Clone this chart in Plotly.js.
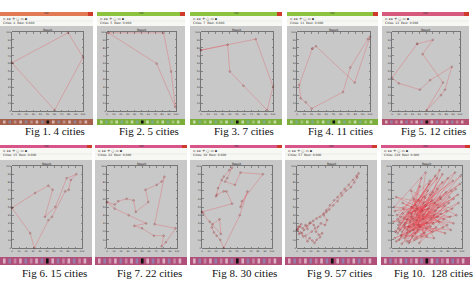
<!DOCTYPE html>
<html><head><meta charset="utf-8">
<script src="https://cdn.plot.ly/plotly-3.0.1.min.js"></script>
<style>html,body{margin:0;padding:0;background:#fff;overflow:hidden}#chart{width:474px;height:289px}</style>
</head><body><div id="chart"></div>
<script>
// ---------- DATA (tour order, city coordinates, axis units 0-100) ----------
const captions = ["Fig 1. 4 cities","Fig 2. 5 cities","Fig 3. 7 cities","Fig 4. 11 cities","Fig 5. 12 cities",
                  "Fig 6. 15 cities","Fig 7. 22 cities","Fig 8. 30 cities","Fig 9. 57 cities","Fig 10.  128 cities"];
const plotTitle = "Result";
const tickVals = [0,10,20,30,40,50,60,70,80,90,100];

const x1 = [0,79,100,60];
const y1 = [61,99,68,1];

const x2 = [2,82,93,99,72];
const y2 = [99,99,50,5,60];

const x3 = [0,76,100,92,59,40,37];
const y3 = [77,91,31,1,32,50,84];

const x4 = [21,26,79,100,97,73,63,20,12,5,3];
const y4 = [79,82,36,94,91,55,24,3,11,16,33];

const x5 = [37,60,45,75,51,72,78,88,56,41,10,0];
const y5 = [85,90,72,36,1,20,27,56,39,27,35,42];

const x6 = [0,33,52,58,47,62,78,92,84,81,76,57,52,32,26];
const y6 = [49,67,76,71,38,50,85,90,83,71,69,38,34,0,18];

const x7 = [0,11,16,28,38,41,59,55,71,78,82,68,98,84,78,81,67,50,39,56,31,11];
const y7 = [56,53,57,60,58,44,56,71,77,81,87,29,24,7,2,15,15,24,27,30,40,48];

const x8 = [0,43,35,31,21,20,23,28,31,39,43,36,33,47,55,87,57,55,65,54,31,26,21,17,14,15,25,27,11,2];
const y8 = [44,54,69,69,65,63,73,83,87,95,98,85,81,77,92,90,57,50,69,40,0,10,15,19,25,29,35,17,32,42];

const x9 = [0,4,8,12,15,18,23,28,33,38,42,47,53,58,63,68,74,80,85,88,86,82,77,70,64,58,52,46,42,38,
            43,40,34,30,27,31,36,33,28,25,22,18,15,12,21,26,24,19,14,10,7,9,5,3,1,6,2];
const y9 = [22,26,24,28,23,30,33,36,38,42,46,52,58,62,67,72,77,83,88,91,86,80,74,70,64,57,52,47,44,40,
            34,28,30,26,20,16,18,13,10,6,9,12,8,15,20,24,28,31,27,22,18,14,19,17,23,29,26];

const x10 = [5,62,12,85,20,40,8,70,25,90,15,55,30,78,3,48,35,95,18,60,10,72,28,88,6,45,22,65,38,82,
             14,52,33,97,26,58,9,75,42,68,17,50,4,86,31,63,21,80,36,57,11,92,27,46,16,74,39,66,7,54,
             24,84,34,60,13,77,44,98,19,51,29,70,2,88,37,56,23,64,8,47,32,79,15,43,26,91,6,59,35,72,
             18,49,28,83,12,61,40,76,21,53,9,67,31,94,14,45,38,73,24,58,4,81,33,62,17,50,27,87,10,55,
             36,69,22,42,13,65,30,48];
const y10 = [20,88,30,70,15,75,35,60,8,92,42,65,22,45,50,92,12,55,25,40,10,80,38,30,62,55,18,72,28,62,
             5,48,45,78,32,20,28,52,15,95,36,30,12,48,60,25,8,85,40,58,22,40,70,18,48,35,6,50,40,82,
             26,22,52,12,16,68,35,88,30,70,14,42,32,60,22,36,44,85,18,62,10,28,55,45,20,72,8,30,34,90,
             12,24,50,38,38,55,26,18,35,78,24,32,28,65,20,40,58,25,6,68,45,55,18,45,28,14,42,82,32,26,
             48,62,22,85,14,38,35,52];

const tours = [[x1,y1],[x2,y2],[x3,y3],[x4,y4],[x5,y5],[x6,y6],[x7,y7],[x8,y8],[x9,y9],[x10,y10]];

// ---------- LAYOUT GEOMETRY (pixels) ----------
const W = 474, H = 289;
const px = v => v / W, py = v => 1 - v / H;
const rows = [
  {top:12, bar:16, tool:26, gray:119, task:125, cap:131,
   win:[[0,93],[97,185],[190,282],[287,378],[382,469]],
   plot:[[12,83],[107,176],[201,273],[297,370],[392,460]], py:[32,111],
   barCol:['#e27a55','#8cc43f','#8cc43f','#8cc43f','#d65a7c'],
   taskCol:['#a5604c','#7cae3c','#7cae3c','#7cae3c','#b25270']},
  {top:145, bar:148, tool:160, gray:257, task:265, cap:273,
   win:[[0,92],[95,187],[190,282],[285,377],[381,470]],
   plot:[[12,82],[107,177],[202,272],[297,367],[392,462]], py:[166,248],
   barCol:['#d8558a','#d8558a','#d8558a','#d8558a','#d8558a'],
   taskCol:['#b0507a','#b0507a','#b0507a','#b0507a','#b0507a']}
];

const traces = [], shapes = [], annotations = [];
const layout = {width:W, height:H, margin:{l:0,r:0,t:0,b:0}, paper_bgcolor:'#fff', plot_bgcolor:'#fff',
                showlegend:false, shapes:shapes, annotations:annotations};

function rect(x0,x1,y0,y1,color,extra){
  shapes.push(Object.assign({type:'rect',xref:'paper',yref:'paper',x0:px(x0),x1:px(x1),y0:py(y1),y1:py(y0),
    fillcolor:color,line:{width:0},layer:'below'},extra||{}));
}

let k = 0;
rows.forEach((r,ri)=>{
  for(let c=0;c<5;c++){
    const [wx0,wx1] = r.win[c];
    rect(wx0,wx1,r.top,r.task,'#c8c8c8');
    rect(wx0,wx1,r.top,r.bar,r.barCol[c]);
    rect(wx1-5,wx1,r.top,r.bar,'#d03a2a');
    rect(wx0,wx1,r.bar,r.tool,'#f7f7f4');
    shapes.push({type:'line',xref:'paper',yref:'paper',x0:px(wx0),x1:px(wx1),y0:py((r.bar+r.tool)/2),y1:py((r.bar+r.tool)/2),
      line:{color:'#dcdcd8',width:0.5},layer:'below'});
    rect(wx0,wx1,r.gray,r.task,r.taskCol[c]);
    const iw = (wx1-wx0);
    for(let j=0;j<16;j++){
      const ix = wx0 + 3 + j*(iw-6)/16;
      const col = (j===8)?'#111':(j%3===0?'rgba(255,255,255,0.55)':(j%3===1?'rgba(120,170,220,0.5)':'rgba(255,255,255,0.3)'));
      rect(ix, ix+2.6, r.gray+1.5, r.task-1.5, col);
    }
    annotations.push({xref:'paper',yref:'paper',x:px(wx0+1),y:py(r.bar+2.6),xanchor:'left',yanchor:'middle',
      text:'▫ ◂ ▸ ✛ ○ ▭ ▪',showarrow:false,font:{size:3.5,color:'#333',family:'DejaVu Sans'}});
    annotations.push({xref:'paper',yref:'paper',x:px(wx0+1),y:py(r.bar+7),xanchor:'left',yanchor:'middle',
      text:'Cities: '+tours[k][0].length+'  Best: 0.000',showarrow:false,font:{size:3,color:'#333',family:'DejaVu Sans'}});
    annotations.push({xref:'paper',yref:'paper',x:px((wx0+wx1)/2),y:py((r.top+r.bar)/2),xanchor:'center',yanchor:'middle',
      text:'TSP',showarrow:false,font:{size:2.5,color:'#333',family:'DejaVu Sans'}});

    const ax = k===0?'':String(k+1);
    const [x0,x1] = r.plot[c];
    const axisBase = {range:[0,100],tickvals:tickVals,ticks:'inside',ticklen:1.5,tickwidth:0.4,tickcolor:'#222',
      showline:true,linecolor:'#222',linewidth:0.5,mirror:'ticks',showgrid:false,zeroline:false,
      tickfont:{size:2.5,color:'#333',family:'DejaVu Sans'},fixedrange:true};
    layout['xaxis'+ax] = Object.assign({},axisBase,{domain:[px(x0),px(x1)],anchor:'y'+ax});
    layout['yaxis'+ax] = Object.assign({},axisBase,{domain:[py(r.py[1]),py(r.py[0])],anchor:'x'+ax});

    const xs = tours[k][0].concat([tours[k][0][0]]);
    const ys = tours[k][1].concat([tours[k][1][0]]);
    traces.push({type:'scatter',mode:'lines+markers',x:xs,y:ys,xaxis:'x'+ax,yaxis:'y'+ax,cliponaxis:false,
      line:{color:'rgba(230,70,80,0.6)',width:0.5},
      marker:{size:1.8,color:'rgba(120,40,40,0.75)',symbol:'circle-open',line:{width:0.4}},hoverinfo:'skip'});

    annotations.push({xref:'paper',yref:'paper',x:px((x0+x1)/2),y:py(r.py[0]-2.5),xanchor:'center',yanchor:'middle',
      text:plotTitle,showarrow:false,font:{size:3,color:'#222',family:'DejaVu Sans'}});
    const cx = (wx0+wx1)/2 + 8;
    annotations.push({xref:'paper',yref:'paper',x:px(cx),y:py(r.cap),xanchor:'center',yanchor:'middle',
      text:captions[k],showarrow:false,font:{size:11,color:'#111',family:'Liberation Serif'}});
    k++;
  }
});

Plotly.newPlot('chart', traces, layout, {staticPlot:true, displayModeBar:false});
</script></body></html>
